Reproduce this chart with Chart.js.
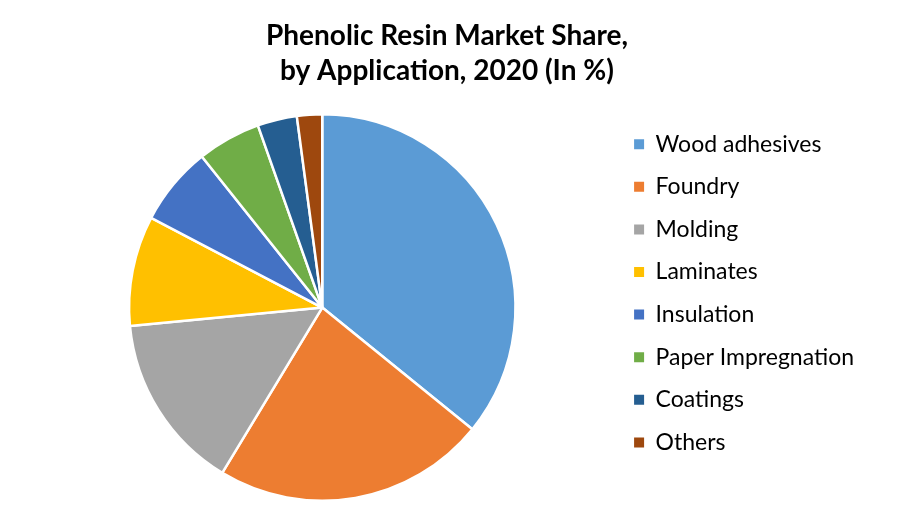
<!DOCTYPE html>
<html>
<head>
<meta charset="utf-8">
<script src="https://cdn.jsdelivr.net/npm/chart.js@4"></script>
<style>
  html, body { margin: 0; padding: 0; background: #fff; }
  #wrap { width: 900px; height: 525px; }
</style>
</head>
<body>
<div id="wrap"><canvas id="pieChart"></canvas></div>
<script>
// shares (%)
var categories = ['Wood adhesives', 'Foundry', 'Molding', 'Laminates', 'Insulation', 'Paper Impregnation', 'Coatings', 'Others'];
var shares = [35.8, 22.8, 14.8, 9.2, 6.6, 5.3, 3.3, 2.1];
var sliceColors = ['#5B9BD5', '#ED7D31', '#A5A5A5', '#FFC000', '#4472C4', '#70AD47', '#255E91', '#9E480E'];
var titleLines = ['Phenolic Resin Market Share,', 'by Application, 2020 (In %)'];

window.onload = function() {
  var ctx = document.getElementById('pieChart').getContext('2d');
  new Chart(ctx, {
    type: 'pie',
    data: {
      labels: categories,
      datasets: [{
        data: shares,
        backgroundColor: sliceColors,
        borderColor: '#ffffff',
        borderWidth: 2.5
      }]
    },
    options: {
      responsive: true,
      maintainAspectRatio: false,
      animation: false,
      layout: {
        padding: { left: 30, right: 36, top: 18, bottom: 23 }
      },
      plugins: {
        title: {
          display: true,
          fullSize: true,
          text: titleLines,
          color: '#000',
          font: { family: 'Lato', size: 28, weight: 'bold', lineHeight: 1.27 },
          padding: { top: 0, bottom: 24 }
        },
        legend: {
          position: 'right',
          align: 'start',
          fullSize: false,
          labels: {
            color: '#000',
            font: { family: 'Lato', size: 23 },
            boxWidth: 10,
            boxHeight: 10,
            padding: 19.6,
            // solid squares, no white outline from the slice border
            generateLabels: function(chart) {
              var items = Chart.controllers.pie.overrides.plugins.legend.labels.generateLabels(chart);
              items.forEach(function(item) { item.lineWidth = 0; });
              return items;
            }
          }
        },
        tooltip: { enabled: false }
      }
    }
  });
};
</script>
</body>
</html>
